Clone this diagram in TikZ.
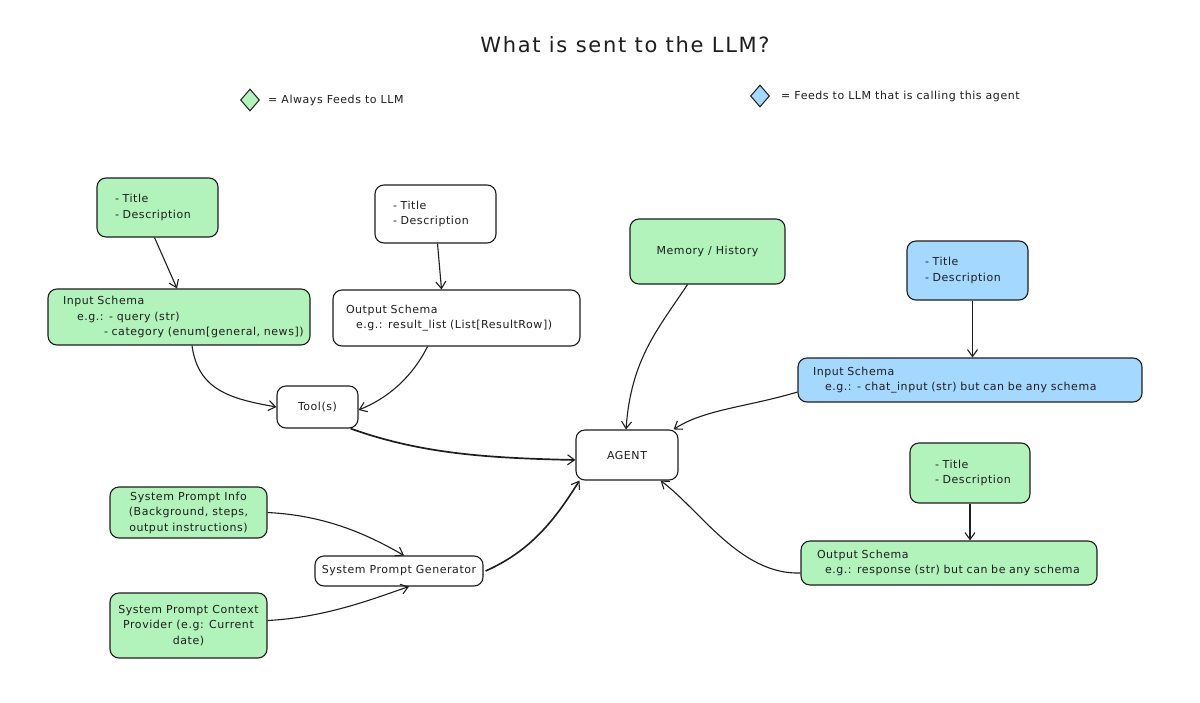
\documentclass[tikz,border=0pt]{standalone}
\usepackage{fontspec}
\setmainfont{DejaVu Sans}
\newfontfamily\hand{DejaVu Sans}[LetterSpace=5]
\newfontfamily\handt{DejaVu Sans}[LetterSpace=8]
\usetikzlibrary{arrows.meta,shapes.geometric}
\definecolor{gr}{HTML}{B2F2BB}
\definecolor{bl}{HTML}{A5D8FF}
\definecolor{ink}{HTML}{1E1E1E}
\begin{document}
\begin{tikzpicture}[x=1pt,y=-1pt,
  box/.style={draw=ink,line width=1.1pt,rounded corners=9pt,text=ink,
    font=\hand\fontsize{11}{15.5}\selectfont,inner ysep=0pt},
  lbox/.style 2 args={box,minimum width=#1,text width=#1-2*#2,inner xsep=#2,align=left},
  cbox/.style={box,align=center,inner xsep=0pt},
  arr/.style={draw=ink,line width=1.1pt,-{Straight Barb[length=7pt,width=10pt,line width=1.1pt]}},
  legend/.style={diamond,draw=ink,line width=1pt,minimum width=19pt,minimum height=22pt,inner sep=0pt},
  ltext/.style={anchor=west,text=ink,font=\hand\fontsize{11}{12}\selectfont,inner sep=0pt}]
\useasboundingbox[fill=white] (0,0) rectangle (1200,702);

% title and legend
\node[text=ink,font=\handt\fontsize{21}{24}\selectfont] (title) at (625,45) {What is sent to the LLM?};
\node[legend,fill=gr] (lg) at (250,100) {};
\node[ltext] (lgt) at (268,100) {= Always Feeds to LLM};
\node[legend,fill=bl] (lb) at (760,96) {};
\node[ltext] (lbt) at (781,96) {= Feeds to LLM that is calling this agent};

% left tool branch
\node[lbox={121}{18},fill=gr,minimum height=59] (td1) at (157.5,207.5) {\mbox{- Title}\\\mbox{- Description}};
\node[lbox={262}{15},fill=gr,minimum height=56] (is1) at (179,317)
  {\mbox{Input Schema}\\\mbox{\hspace*{14pt}e.g.: - query (str)}\\\mbox{\hspace*{41pt}- category (enum[general, news])}};
\node[lbox={121}{18},fill=white,minimum height=58] (td2) at (435.5,214) {\mbox{- Title}\\\mbox{- Description}};
\node[lbox={247}{13},fill=white,minimum height=56] (os1) at (456.5,318)
  {\mbox{Output Schema}\\\mbox{\hspace*{10pt}e.g.: result\_list (List[ResultRow])}};
\node[cbox,fill=white,minimum width=81,minimum height=42] (tool) at (317.5,407) {Tool(s)};

% centre
\node[cbox,fill=white,minimum width=102,minimum height=50] (agent) at (627,455) {AGENT};
\node[cbox,fill=gr,minimum width=155,minimum height=65] (mem) at (707.5,251.5) {Memory / History};

% right side
\node[lbox={121}{18},fill=bl,minimum height=59] (td3) at (967.5,270.5) {\mbox{- Title}\\\mbox{- Description}};
\node[lbox={344}{15},fill=bl,minimum height=44] (is3) at (970,380)
  {\mbox{Input Schema}\\\mbox{\hspace*{12pt}e.g.: - chat\_input (str) but can be any schema}};
\node[lbox={120}{25},fill=gr,minimum height=60] (td4) at (970,473) {\mbox{- Title}\\\mbox{- Description}};
\node[lbox={296}{16},fill=gr,minimum height=44] (os4) at (949,563)
  {\mbox{Output Schema}\\\mbox{\hspace*{8pt}e.g.: response (str) but can be any schema}};

% system prompt
\node[cbox,fill=gr,minimum width=157,minimum height=51] (spi) at (188.5,512.5)
  {System Prompt Info\\(Background, steps,\\output instructions)};
\node[cbox,fill=white,minimum width=168,minimum height=30] (spg) at (399,571) {System Prompt Generator};
\node[cbox,fill=gr,minimum width=157,minimum height=65] (spc) at (188.5,625.5)
  {System Prompt Context\\Provider (e.g: Current\\date)};

% connectors
\draw[arr] ([xshift=-3]td1.south) -- ([xshift=-2]is1.north);
\draw[arr] ([xshift=2]td2.south) -- ([xshift=6]td2.south |- os1.north);
\draw[arr] ([xshift=13]is1.south) .. controls +(6,45) and +(-45,-8) .. (tool.west);
\draw[arr] ([xshift=-29]os1.south) .. controls +(-15,30) and +(30,-12) .. ([yshift=-3]tool.east);
\draw[arr,line width=1.7pt] ([xshift=-8]tool.south east) .. controls +(70,25) and +(-90,-2) .. ([yshift=-5]agent.west);
\draw[arr] ([xshift=-20]mem.south) .. controls +(-30,45) and +(5,-70) .. ([xshift=-1]agent.north);
\draw[arr] ([yshift=-12]is3.west) .. controls +(-50,15) and +(30,-20) .. ([xshift=-5]agent.north east);
\draw[arr] ([yshift=-10]os4.west) .. controls +(-60,2) and +(40,30) .. ([xshift=-18]agent.south east);
\draw[arr,line width=1.6pt] ([xshift=2]spg.east) .. controls +(45,-20) and +(-25,40) .. ([xshift=4]agent.south west);
\draw[arr] (spi.east) .. controls +(60,3) and +(-35,-20) .. ([xshift=5]spg.north);
\draw[arr] ([yshift=5]spc.east) .. controls +(60,-3) and +(-30,10) .. ([xshift=10]spg.south);
\draw[arr] ([xshift=5]td3.south) -- ([xshift=5]td3.south |- is3.north);
\draw[arr] (td4.south) -- (td4.south |- os4.north);
\end{tikzpicture}
\end{document}
